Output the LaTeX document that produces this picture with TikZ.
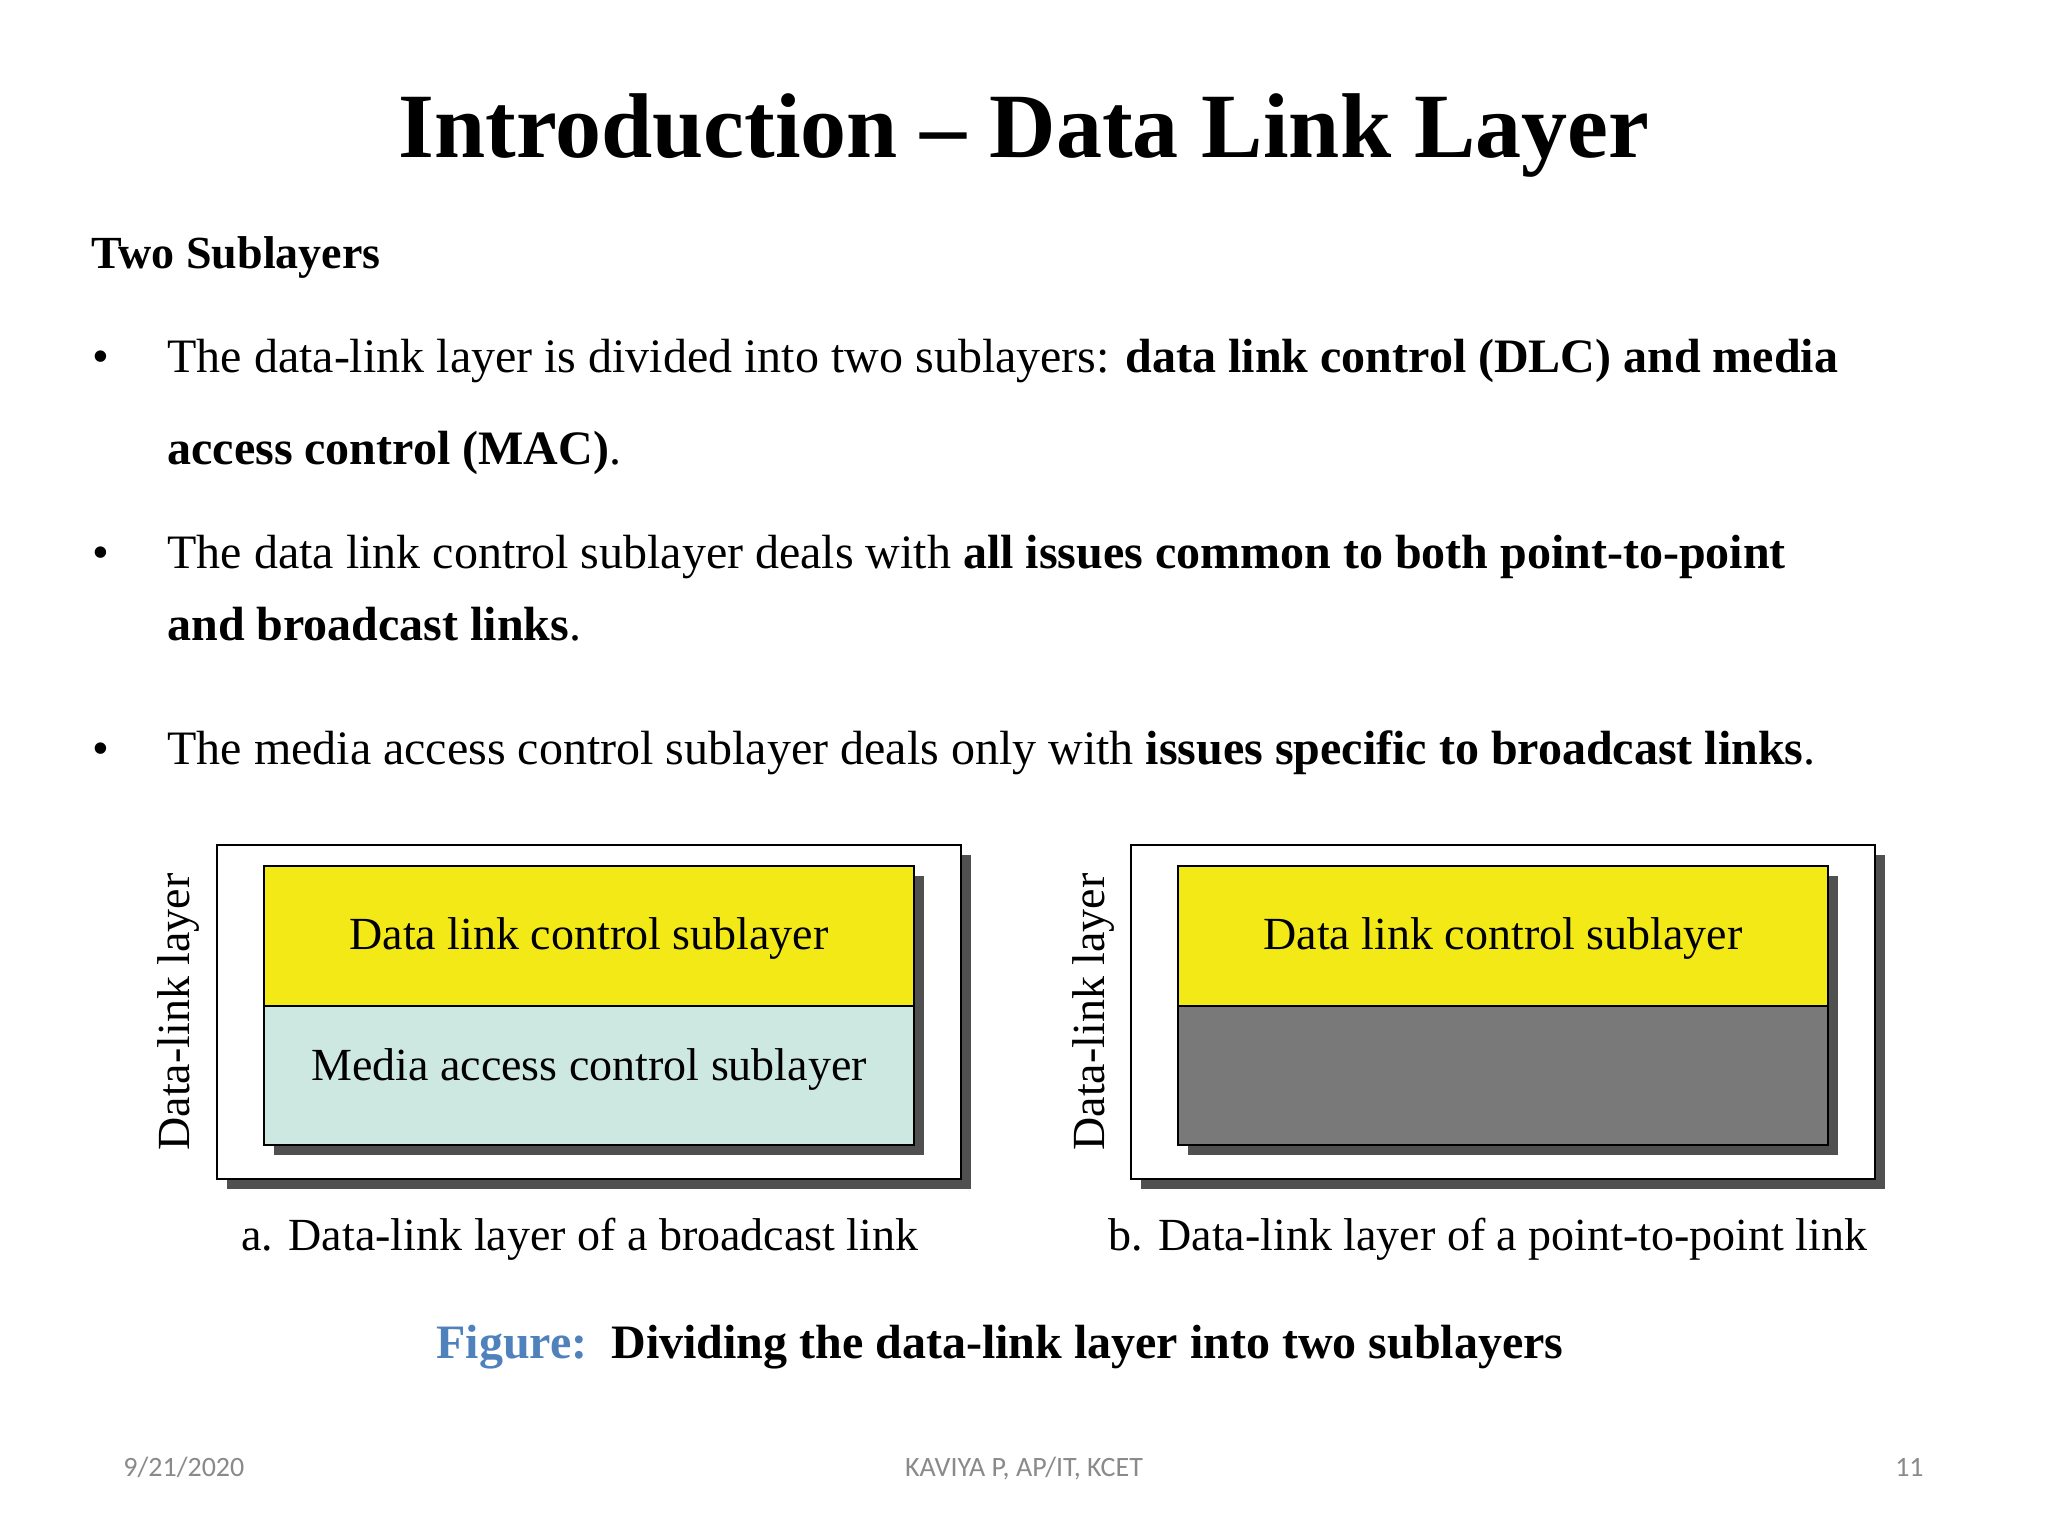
\documentclass[tikz,border=0pt]{standalone}
\usepackage{fontspec}
\setmainfont{Liberation Serif}
\newfontfamily\footfont{Carlito}
\definecolor{dlcY}{HTML}{F2E916}
\definecolor{macC}{HTML}{CCE8E0}
\definecolor{shd}{HTML}{505050}
\definecolor{figblue}{HTML}{4F81BD}
\definecolor{footgray}{HTML}{8A8A8A}
\begin{document}
\begin{tikzpicture}[x=0.5pt,y=-0.5pt,
  body/.style={anchor=base west,inner sep=0,font=\fontsize{24}{28}\selectfont},
  outerbox/.style={draw=black,line width=1.2pt,fill=white},
  shadowbox/.style={fill=shd,draw=none},
  lbl/.style={font=\fontsize{23}{26}\selectfont,inner sep=0},
  foot/.style={font=\footfont\fontsize{14}{16}\selectfont,text=footgray,inner sep=0,anchor=base}]
\useasboundingbox (0,0) rectangle (2048,1536);
\fill[white] (0,0) rectangle (2048,1536);
\node[anchor=base,inner sep=0,font=\bfseries\fontsize{46}{50}\selectfont] (title) at (1024,157) {Introduction -- Data Link Layer};
\node[body,font=\bfseries\fontsize{23}{26}\selectfont] (two) at (91,268) {Two Sublayers};
\foreach \y/\n in {372/1,568/2,764/3} \node[body] (b\n) at (92,\y) {•};
\node[body] (l1) at (167,372) {The data-link layer is divided into two sublayers: \textbf{data link control (DLC) and media}};
\node[body] (l2) at (167,464) {\textbf{access control (MAC)}.};
\node[body] (l3) at (167,568) {The data link control sublayer deals with \textbf{all issues common to both point-to-point}};
\node[body] (l4) at (167,640) {\textbf{and broadcast links}.};
\node[body] (l5) at (167,764) {The media access control sublayer deals only with \textbf{issues specific to broadcast links}.};
% diagram a
\fill[shadowbox] (227,855) rectangle (971,1189);
\draw[outerbox] (217,845) rectangle (961,1179);
\fill[shadowbox] (274,876) rectangle (924,1155);
\draw[fill=dlcY,line width=1.2pt] (264,866) rectangle (914,1006);
\draw[fill=macC,line width=1.2pt] (264,1006) rectangle (914,1145);
\node[lbl] (a1) at (589,938) {Data link control sublayer};
\node[lbl] (a2) at (589,1069) {Media access control sublayer};
\node[lbl,rotate=90] (ar) at (179,1012) {Data-link layer};
\node[lbl,anchor=base] (ac) at (580,1250) {a. Data-link layer of a broadcast link};
% diagram b
\fill[shadowbox] (1141,855) rectangle (1885,1189);
\draw[outerbox] (1131,845) rectangle (1875,1179);
\fill[shadowbox] (1188,876) rectangle (1838,1155);
\draw[fill=dlcY,line width=1.2pt] (1178,866) rectangle (1828,1006);
\draw[fill=gray!95!black,line width=1.2pt] (1178,1006) rectangle (1828,1145);
\node[lbl] (b1) at (1503,938) {Data link control sublayer};
\node[lbl,rotate=90] (br) at (1093,1012) {Data-link layer};
\node[lbl,anchor=base] (bc) at (1488,1250) {b. Data-link layer of a point-to-point link};
% figure caption
\node[anchor=base,inner sep=0,font=\bfseries\fontsize{24}{28}\selectfont] (fig) at (1000,1358) {\textcolor{figblue}{Figure:}\ \ Dividing the data-link layer into two sublayers};
% footer
\node[foot,anchor=base west] (date) at (123,1476) {9/21/2020};
\node[foot] (auth) at (1024,1476) {KAVIYA P, AP/IT, KCET};
\node[foot,anchor=base east] (pg) at (1924,1476) {11};
\end{tikzpicture}
\end{document}
